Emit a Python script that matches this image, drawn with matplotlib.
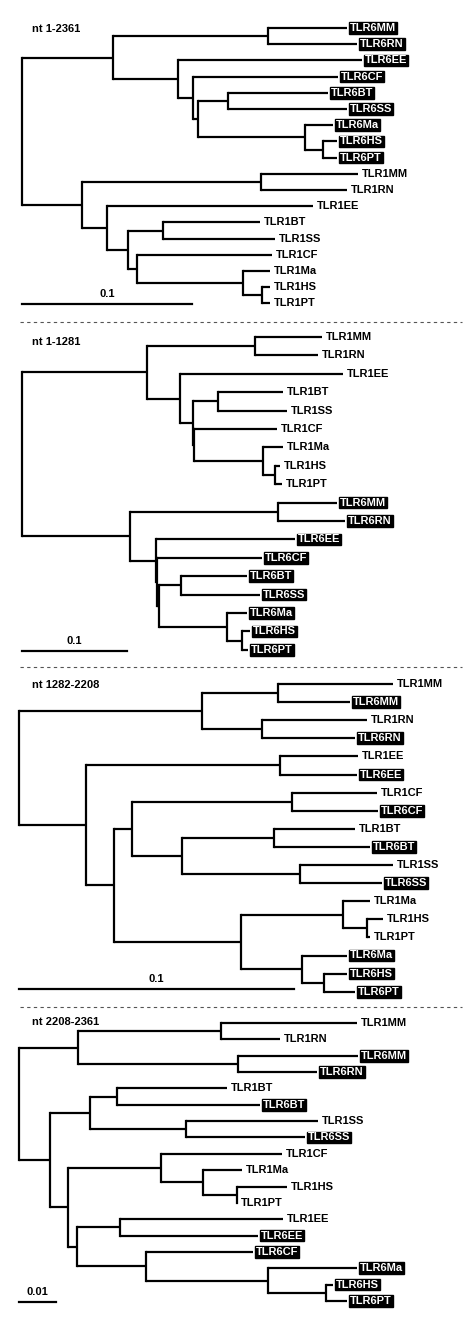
import matplotlib
matplotlib.use("Agg")
import matplotlib.pyplot as plt

plt.rcParams['font.family'] = ['Liberation Sans', 'DejaVu Sans']

# Trees: internal node = (x, [children]); leaf = (name, tip_x). x in scale units (pixels of layout)
tree1 = (22, [
    (113, [(268, [("TLR6MM", 347), ("TLR6RN", 357)]),
           (178, [("TLR6EE", 362),
                  (193, [("TLR6CF", 338),
                         (198, [(228, [("TLR6BT", 328), ("TLR6SS", 347)]),
                                (305, [("TLR6Ma", 333), (323, [("TLR6HS", 337), ("TLR6PT", 337)])])])])])]),
    (82, [(261, [("TLR1MM", 358), ("TLR1RN", 347)]),
          (107, [("TLR1EE", 313),
                 (128, [(163, [("TLR1BT", 260), ("TLR1SS", 275)]),
                        (137, [("TLR1CF", 272),
                               (243, [("TLR1Ma", 270), (262, [("TLR1HS", 270), ("TLR1PT", 270)])])])])])])])

tree2 = (22, [
    (147, [(255, [("TLR1MM", 322), ("TLR1RN", 318)]),
           (180, [("TLR1EE", 343),
                  (193, [(218, [("TLR1BT", 283), ("TLR1SS", 287)]),
                         (194, [("TLR1CF", 277),
                                (263, [("TLR1Ma", 283), (275, [("TLR1HS", 280), ("TLR1PT", 282)])])])])])]),
    (130, [(278, [("TLR6MM", 337), ("TLR6RN", 345)]),
           (156, [("TLR6EE", 295),
                  (157, [("TLR6CF", 262),
                         (159, [(181, [("TLR6BT", 247), ("TLR6SS", 260)]),
                                (227, [("TLR6Ma", 247), (242, [("TLR6HS", 250), ("TLR6PT", 248)])])])])])])])

tree3 = (19, [
    (202, [(278, [("TLR1MM", 393), ("TLR6MM", 350)]),
           (262, [("TLR1RN", 367), ("TLR6RN", 355)])]),
    (86, [(280, [("TLR1EE", 358), ("TLR6EE", 357)]),
          (114, [(132, [(292, [("TLR1CF", 377), ("TLR6CF", 378)]),
                        (182, [(274, [("TLR1BT", 355), ("TLR6BT", 370)]),
                               (300, [("TLR1SS", 393), ("TLR6SS", 382)])])]),
                 (241, [(343, [("TLR1Ma", 370), (367, [("TLR1HS", 383), ("TLR1PT", 370)])]),
                        (302, [("TLR6Ma", 347), (324, [("TLR6HS", 347), ("TLR6PT", 355)])])])])])])

tree4 = (19, [
    (78, [(221, [("TLR1MM", 357), ("TLR1RN", 280)]),
          (238, [("TLR6MM", 358), ("TLR6RN", 317)])]),
    (50, [(90, [(117, [("TLR1BT", 227), ("TLR6BT", 260)]),
                (186, [("TLR1SS", 318), ("TLR6SS", 305)])]),
          (68, [(161, [("TLR1CF", 282),
                       (203, [("TLR1Ma", 242), (237, [("TLR1HS", 287), ("TLR1PT", 237)])])]),
                (77, [(120, [("TLR1EE", 283), ("TLR6EE", 258)]),
                      (146, [("TLR6CF", 253),
                             (268, [("TLR6Ma", 357), (326, [("TLR6HS", 333), ("TLR6PT", 347)])])])])])])])

titles = ["nt 1-2361", "nt 1-1281", "nt 1282-2208", "nt 2208-2361"]
scale_labels = ["0.1", "0.1", "0.1", "0.01"]
scale_len = [170, 105, 275, 37]
panels = [  # first leaf y, leaf spacing, title y, scale-bar y
    (28, 16.2, 29, 304),
    (337, 18.4, 342, 651),
    (684, 18.1, 685, 989),
    (1023, 16.35, 1022, 1302),
]
trees = [tree1, tree2, tree3, tree4]
divider_y = [322, 667, 1007]

fig = plt.figure(figsize=(4.74, 13.2), dpi=100)
ax = fig.add_axes([0, 0, 1, 1])
ax.set_xlim(0, 474)
ax.set_ylim(1320, 0)
ax.axis('off')
LW = 1.6

def draw(node, parent_x, counter, y0, dy):
    if isinstance(node[0], str):
        name, tip = node
        y = y0 + dy * counter[0]
        counter[0] += 1
        ax.plot([parent_x, tip], [y, y], color='black', lw=LW, solid_capstyle='butt')
        if name.startswith("TLR6"):
            ax.text(tip + 3, y, name, color='white', fontsize=8, fontweight='bold',
                    va='center', ha='left',
                    bbox=dict(boxstyle='square,pad=0.08', fc='black', ec='black'))
        else:
            ax.text(tip + 4, y, name, color='black', fontsize=8, fontweight='bold',
                    va='center', ha='left')
        return y
    x, children = node
    ys = [draw(c, x, counter, y0, dy) for c in children]
    ax.plot([x, x], [min(ys), max(ys)], color='black', lw=LW, solid_capstyle='projecting')
    ym = (min(ys) + max(ys)) / 2
    if parent_x is not None:
        ax.plot([parent_x, x], [ym, ym], color='black', lw=LW, solid_capstyle='butt')
    return ym

for t, title, (y0, dy, ty, sy), sl, sL in zip(trees, titles, panels, scale_labels, scale_len):
    draw(t, None, [0], y0, dy)
    ax.text(32, ty, title, fontsize=8, fontweight='bold', va='center', ha='left')
    x0 = t[0]
    ax.plot([x0, x0 + sL], [sy, sy], color='black', lw=LW)
    ax.text(x0 + sL / 2, sy - 5, sl, fontsize=8, fontweight='bold', ha='center', va='bottom')

for dv in divider_y:
    ax.plot([20, 462], [dv, dv], color='#555555', lw=0.8, ls=(0, (3, 3)))

fig.savefig("out.png", dpi=100)
